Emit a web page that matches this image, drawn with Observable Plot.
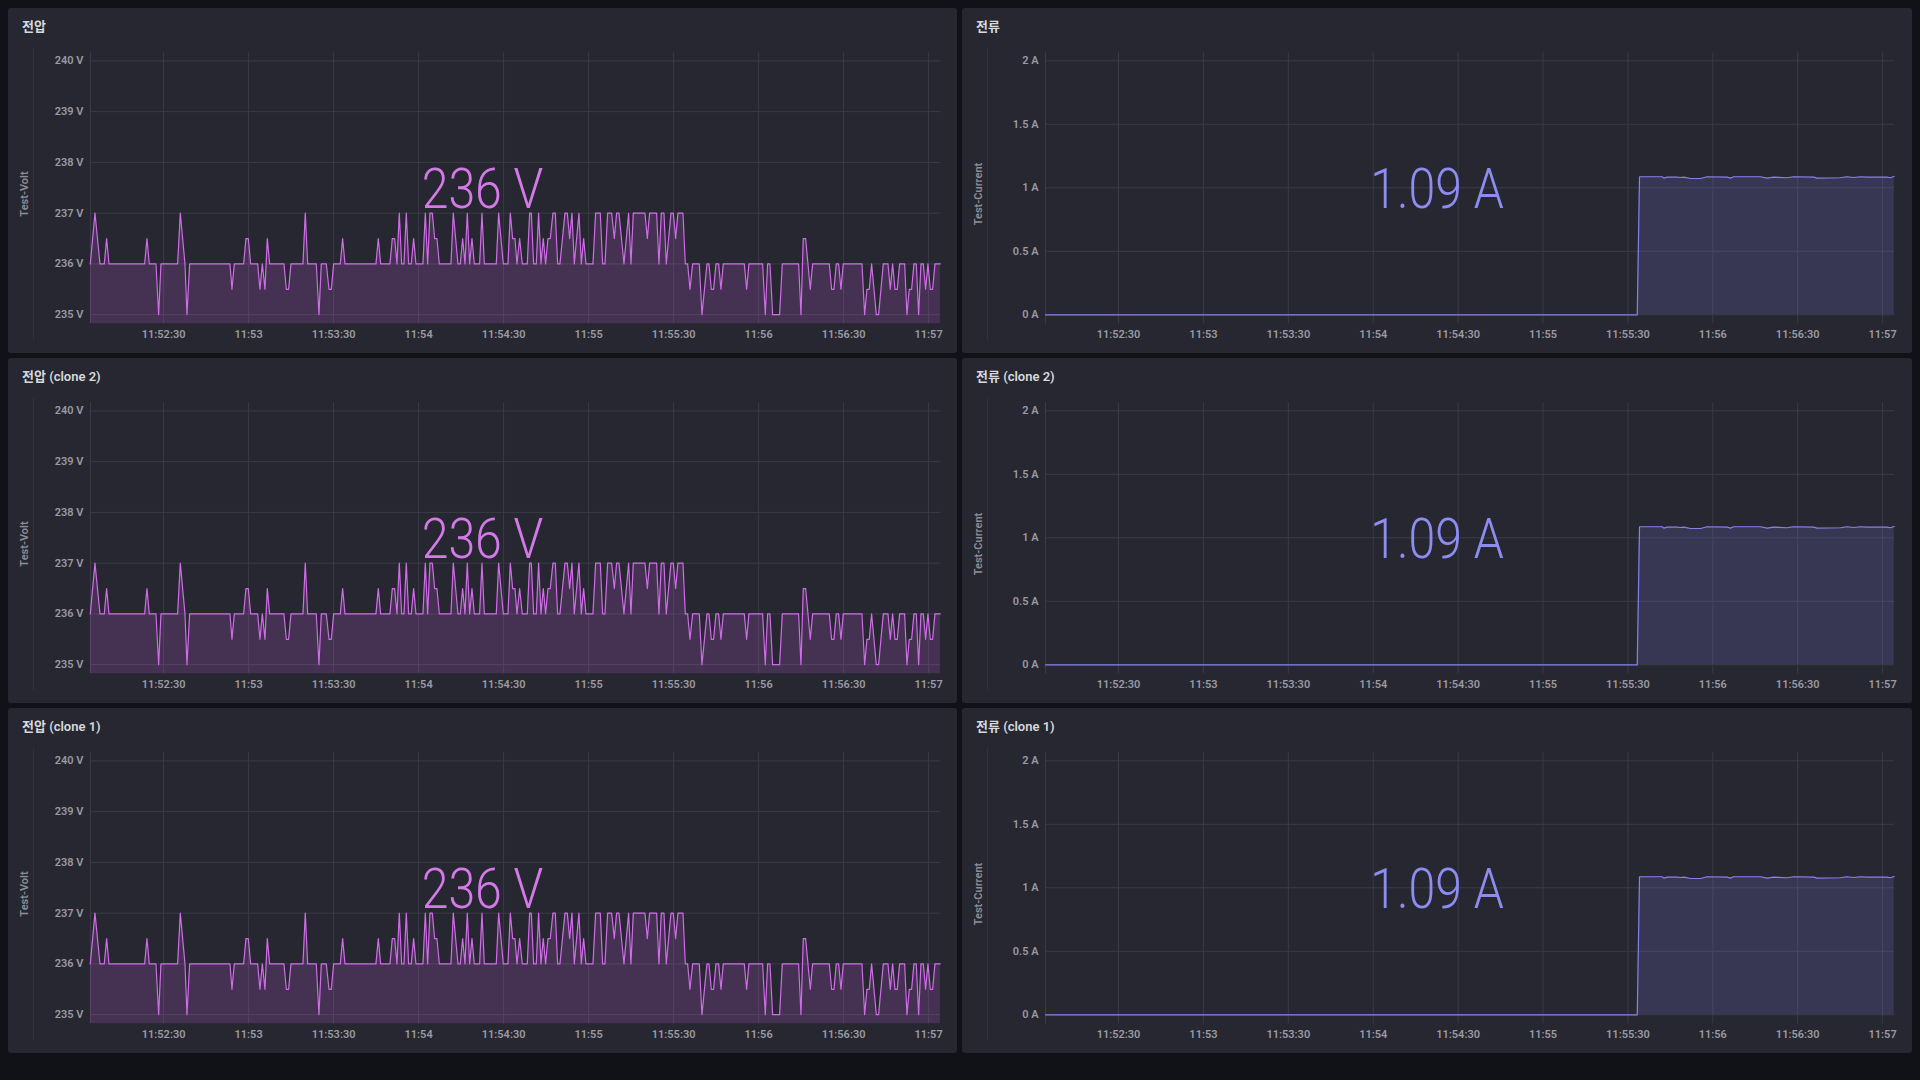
<!DOCTYPE html>
<html>
<head>
<meta charset="utf-8">
<script src="https://cdn.jsdelivr.net/npm/d3@7"></script>
<script src="https://cdn.jsdelivr.net/npm/@observablehq/plot@0.6"></script>
<style>
  html, body { margin: 0; padding: 0; }
  body { width: 1920px; height: 1080px; background: #111217; overflow: hidden; font-family: Roboto, "Noto Sans CJK KR", sans-serif; }
  .panel { position: absolute; background: #272731; border-radius: 3px; overflow: hidden; }
  .title { position: absolute; left: 14px; top: 8px; font-size: 13px; font-weight: 600; color: #d8d9da; font-family: Roboto, "Noto Sans CJK KR", sans-serif; }
  .divider { position: absolute; left: 25px; top: 40px; width: 1px; height: 292px; background: #31323c; }
  .ylabel { position: absolute; left: 16px; top: 186px; transform: translate(-50%, -50%) rotate(-90deg); font-size: 11px; font-weight: 600; color: #8e8e96; white-space: nowrap; }
  .big { position: absolute; left: 0; width: 100%; text-align: center; top: 153px; font-size: 56px; line-height: 56px; font-weight: 300; font-family: Roboto, sans-serif; transform: scaleX(0.86); transform-origin: 50% 50%; }
  .panel svg { position: absolute; left: 0; top: 0; }
</style>
</head>
<body>
<div id="root"></div>
<script>
// ---- data (seconds after 11:52:00) ----
const voltTimes = [4.13,5.78,7.54,9.07,9.89,10.72,23.31,24.13,24.95,27.31,28.25,29.07,34.95,35.89,37.54,38.25,39.19,53.42,54.13,54.95,58.25,59.07,59.89,60.72,63.19,64.01,64.85,65.78,66.60,67.42,72.48,73.31,74.13,74.95,
79.19,80.01,80.84,83.89,84.83,85.66,87.42,88.37,89.19,90.01,92.37,93.19,94.01,104.95,105.78,106.60,109.89,110.72,111.54,112.37,113.19,114.01,114.84,115.66,116.48,117.42,118.25,119.07,121.54,122.37,123.19,124.01,124.84,125.66,126.48,127.31,131.42,132.25,133.89,134.72,135.54,136.37,137.19,138.01,138.84,139.66,141.54,142.37,143.19,147.42,148.25,149.89,151.54,152.37,153.19,
154.01,154.72,155.66,156.60,158.36,159.19,159.78,160.60,161.54,162.36,163.19,164.01,164.83,165.66,166.48,167.42,168.25,169.07,169.89,171.66,172.48,173.31,174.13,174.95,176.60,177.42,178.25,179.07,181.54,182.48,184.13,184.95,185.78,186.72,188.13,189.07,189.89,190.72,192.48,194.13,194.95,195.78,199.89,200.72,201.54,204.01,204.83,205.66,206.60,207.42,209.07,209.89,210.72,211.54,213.31,214.13,214.95,215.78,216.72,219.07,220.01,221.78,222.48,223.31,224.13,224.95,225.89,226.72,227.54,
234.95,235.77,236.60,241.42,242.36,243.18,244.01,244.95,247.42,248.36,254.12,254.95,255.77,256.60,258.24,259.07,264.95,265.77,266.60,267.42,268.24,269.07,269.89,276.48,277.42,278.24,279.07,279.89,281.54,282.36,283.18,284.01,285.66,286.48,287.30,288.13,288.95,289.77,291.54,292.36,293.18,294.01,294.83,295.66,296.48,297.30,298.13,298.95,299.77,300.60,301.42,302.24,304.13];
const voltValues = [236,237,236,236,236.5,236,236,236.5,236,236,235,236,236,237,236,235,236,236,235.5,236,236,236.5,236.5,236,236,235.5,236,235.5,236.5,236,236,235.5,235.5,236,
236,237,236,236,235,236,236,235.5,235.5,236,236,236.5,236,236,236.5,236,236,236.5,236.5,236,237,236,236,237,236,236,236.5,236,236,237,236,237,237,236.5,236.5,236,236,237,236,236,236.5,236,237,236,236.5,236,236,237,236,236,237,236,236,237,236.5,
236.5,236,236.5,236,236,237,237,236,236,237,236,236.5,236,236.5,236.5,237,237,236,236,237,237,236.5,237,236,237,236,236.5,236,236,237,237,236,236,237,237,236.5,237,237,236,237,236,237,237,236.5,237,237,236,237,237,236,237,237,236.5,237,237,236,236,235.5,236,236,235,236,236,235.5,235.5,236,236,235.5,236,
236,235.5,236,236,235,236,236,235,235,236,236,235,236.5,236.5,235.5,236,236,235.5,235.5,236,236,235.5,236,236,235,235.5,235.5,236,235,235,235.5,236,236,235.5,236,235.5,235.5,236,236,235,235.5,235.5,236,236,235,236,236,235.5,236,235.5,235.5,236,236];

const currentTimes = [4.2,213.3,214.1,222.1,222.7,223.9,227.4,228.6,229.8,232.1,235.7,238.0,245.1,246.2,247.4,256.8,259.2,261.5,266.2,268.6,275.7,276.8,285.1,287.4,289.8,292.1,294.5,301.5,302.7,304.1];
const currentValues = [0,0,1.087,1.087,1.076,1.084,1.084,1.081,1.084,1.073,1.073,1.087,1.084,1.076,1.087,1.087,1.076,1.084,1.079,1.087,1.084,1.076,1.079,1.087,1.081,1.087,1.084,1.084,1.079,1.089];

const xTickSeconds = [30,60,90,120,150,180,210,240,270,300];
const voltTicks = [235,236,237,238,239,240];
const currentTicks = [0,0.5,1,1.5,2];
const voltTitles = ["전압","전압 (clone 2)","전압 (clone 1)"];
const currentTitles = ["전류","전류 (clone 2)","전류 (clone 1)"];
const voltLastLabel = "236 V";
const currentLastLabel = "1.09 A";

// ---- helpers ----
const base = new Date(2023, 0, 1, 11, 52, 0).getTime();
const toDate = s => new Date(base + s * 1000);
const fmtTime = d => {
  const h = d.getHours(), m = String(d.getMinutes()).padStart(2, "0"), s = d.getSeconds();
  return s === 0 ? `${h}:${m}` : `${h}:${m}:${String(s).padStart(2, "0")}`;
};
const voltData = voltTimes.map((t, i) => ({t: toDate(t), v: voltValues[i]}));
const currentData = currentTimes.map((t, i) => ({t: toDate(t), v: currentValues[i]}));
const xDomain = [toDate(4.2), toDate(304.2)];
const xTicks = xTickSeconds.map(toDate);

const GRID = "#3a3b46";
const TICK = "#9a9aa2";

function makePlot({data, yDomain, yTicks, yFmt, color, fillBase, width, mLeft, mRight}) {
  return Plot.plot({
    width, height: 345,
    marginLeft: mLeft, marginRight: mRight, marginTop: 44.3, marginBottom: 29.7,
    style: {background: "transparent", color: TICK, fontSize: "11px", fontWeight: 600, fontFamily: "Roboto, sans-serif", overflow: "visible"},
    x: {type: "time", domain: xDomain, ticks: xTicks, tickFormat: fmtTime, label: null},
    y: {domain: yDomain, ticks: yTicks, tickFormat: yFmt, label: null},
    marks: [
      Plot.gridX(xTicks, {stroke: GRID, strokeOpacity: 1}),
      Plot.gridY(yTicks, {stroke: GRID, strokeOpacity: 1}),
      Plot.ruleX([xDomain[0]], {stroke: GRID, strokeOpacity: 1}),
      Plot.areaY(data, {x: "t", y1: fillBase, y2: "v", fill: color, fillOpacity: 0.18, curve: "linear"}),
      Plot.lineY(data, {x: "t", y: "v", stroke: color, strokeWidth: 1.2, curve: "linear"}),
      Plot.axisX(xTicks, {tickSize: 0, tickPadding: 6, tickFormat: fmtTime, fill: TICK, label: null}),
      Plot.axisY(yTicks, {tickSize: 0, tickPadding: 7, tickFormat: yFmt, fill: TICK, label: null})
    ]
  });
}

const root = document.getElementById("root");
const rows = [8, 358, 708];
function addPanel(x, y, w, title, ylabel, plot, big, bigColor) {
  const p = document.createElement("div");
  p.className = "panel";
  p.style.left = x + "px"; p.style.top = y + "px"; p.style.width = w + "px"; p.style.height = "345px";
  const t = document.createElement("div"); t.className = "title"; t.textContent = title; p.appendChild(t);
  const dv = document.createElement("div"); dv.className = "divider"; p.appendChild(dv);
  const yl = document.createElement("div"); yl.className = "ylabel"; yl.textContent = ylabel; p.appendChild(yl);
  p.appendChild(plot);
  const b = document.createElement("div"); b.className = "big"; b.textContent = big; b.style.color = bigColor; p.appendChild(b);
  root.appendChild(p);
}

rows.forEach((ry, i) => {
  addPanel(8, ry, 949, voltTitles[i], "Test-Volt",
    makePlot({data: voltData, yDomain: [234.82, 240.16], yTicks: voltTicks, yFmt: d => d + " V", color: "#d06ce8", fillBase: 234.82, width: 949, mLeft: 82, mRight: 17}),
    voltLastLabel, "#d47ae8");
  addPanel(962, ry, 950, currentTitles[i], "Test-Current",
    makePlot({data: currentData, yDomain: [-0.071, 2.063], yTicks: currentTicks, yFmt: d => d + " A", color: "#8580ee", fillBase: 0, width: 950, mLeft: 83, mRight: 18}),
    currentLastLabel, "#8d8cf0");
});
</script>
</body>
</html>
